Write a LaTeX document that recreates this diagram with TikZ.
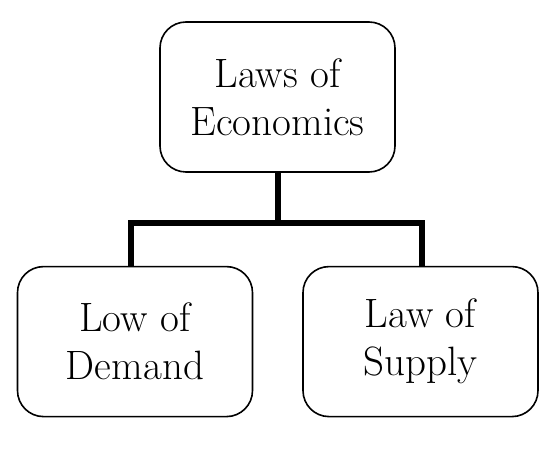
\documentclass[tikz,border=0pt]{standalone}
\usetikzlibrary{positioning}

\begin{document}
\begin{tikzpicture}[
      box/.style={rectangle, draw, line width=1.6pt, minimum width=235pt, minimum height=150pt, align=center, rounded corners=26pt, font=\fontsize{41}{48}\selectfont},
      link/.style={line width=6pt, line join=miter},
      node distance=93pt
    ]
    \useasboundingbox (0,0) rectangle (552pt,-449pt);

    % Nodes
    \node[box] (laws) at (277.5pt,-97pt) {Laws of\\Economics};
    \node[box, below=of laws, xshift=-142.5pt] (demand) {Low of\\Demand};
    \node[box, below=of laws, xshift=143pt] (supply) {Law of\\Supply};

    % Connectors
    \draw[link] (laws.south) -- ++(0,-50pt) coordinate (fork);
    \draw[link] ([xshift=-4.5pt]demand.north) |- (fork) -| ([xshift=1.5pt]supply.north);

\end{tikzpicture}
\end{document}
